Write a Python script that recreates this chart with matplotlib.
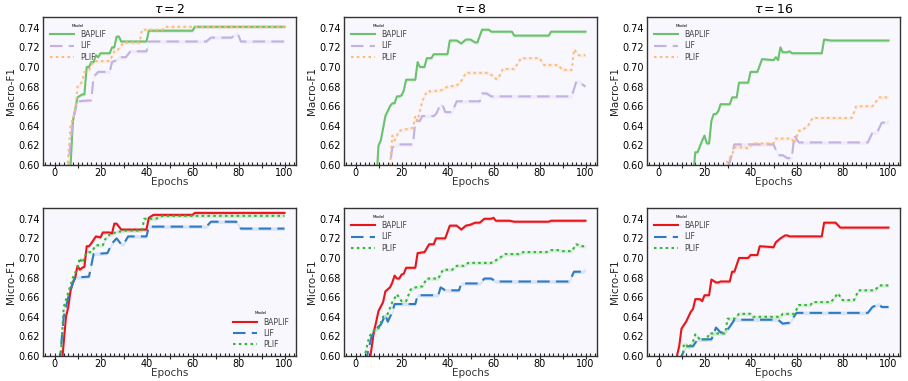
import matplotlib.pyplot as plt
from matplotlib.ticker import MultipleLocator, FuncFormatter

# (epoch, score) points
macro_t2_baplif = [(0, 0.40), (6, 0.57), (7, 0.60), (8, 0.645), (10, 0.669), (12, 0.672), (13, 0.672), (14, 0.700),
                   (15, 0.700), (16, 0.705), (17, 0.705), (18, 0.712), (19, 0.710), (20, 0.714), (24, 0.714),
                   (25, 0.720), (26, 0.720), (27, 0.731), (28, 0.731), (29, 0.726), (40, 0.726), (41, 0.737),
                   (60, 0.737), (61, 0.741), (100, 0.741)]
macro_t2_lif = [(0, 0.40), (5, 0.58), (6, 0.60), (8, 0.645), (10, 0.665), (16, 0.666), (17, 0.690), (19, 0.695),
                (24, 0.695), (25, 0.705), (27, 0.707), (28, 0.710), (31, 0.710), (33, 0.716), (40, 0.716),
                (41, 0.726), (66, 0.726), (68, 0.730), (77, 0.730), (79, 0.734), (80, 0.732), (81, 0.726),
                (100, 0.726)]
macro_t2_plif = [(0, 0.40), (5, 0.58), (6, 0.61), (7, 0.640), (9, 0.655), (10, 0.680), (11, 0.682), (12, 0.685),
                 (13, 0.695), (15, 0.697), (16, 0.702), (17, 0.706), (19, 0.706), (20, 0.706), (24, 0.706),
                 (26, 0.716), (27, 0.716), (30, 0.725), (37, 0.725), (38, 0.738), (47, 0.738), (48, 0.741),
                 (100, 0.741)]

macro_t8_baplif = [(0, 0.40), (9, 0.58), (9.5, 0.60), (10, 0.620), (11, 0.625), (13, 0.650), (15, 0.660),
                   (16, 0.663), (17, 0.663), (18, 0.670), (19, 0.670), (20, 0.671), (21, 0.676), (22, 0.687),
                   (26, 0.687), (27, 0.705), (28, 0.700), (30, 0.700), (31, 0.709), (33, 0.709), (34, 0.713),
                   (40, 0.713), (41, 0.727), (44, 0.727), (46, 0.724), (48, 0.728), (50, 0.728), (52, 0.725),
                   (53, 0.725), (55, 0.738), (58, 0.738), (59, 0.736), (68, 0.736), (69, 0.732), (84, 0.732),
                   (85, 0.736), (100, 0.736)]
macro_t8_lif = [(0, 0.40), (14, 0.58), (15, 0.60), (16, 0.618), (18, 0.621), (25, 0.621), (26, 0.645),
                (28, 0.645), (29, 0.650), (34, 0.650), (35, 0.652), (37, 0.662), (38, 0.660), (39, 0.654),
                (42, 0.654), (44, 0.665), (54, 0.665), (55, 0.673), (57, 0.673), (59, 0.670), (94, 0.670),
                (96, 0.685), (97, 0.685), (100, 0.680)]
macro_t8_plif = [(0, 0.40), (14, 0.58), (15, 0.60), (16, 0.630), (17, 0.625), (19, 0.635), (25, 0.638),
                 (26, 0.650), (27, 0.645), (29, 0.665), (31, 0.675), (37, 0.676), (40, 0.680), (44, 0.681),
                 (46, 0.686), (48, 0.694), (58, 0.694), (61, 0.688), (62, 0.688), (64, 0.698), (69, 0.698),
                 (72, 0.709), (80, 0.709), (82, 0.702), (88, 0.702), (90, 0.697), (94, 0.697), (95, 0.718),
                 (97, 0.712), (100, 0.712)]

macro_t16_baplif = [(0, 0.40), (15, 0.58), (15.5, 0.60), (16, 0.613), (17, 0.613), (19, 0.625), (20, 0.630),
                    (21, 0.622), (22, 0.622), (23, 0.645), (24, 0.652), (25, 0.652), (26, 0.655), (27, 0.662),
                    (31, 0.662), (32, 0.669), (34, 0.669), (35, 0.684), (39, 0.684), (40, 0.695), (43, 0.695),
                    (45, 0.708), (50, 0.707), (51, 0.710), (52, 0.707), (53, 0.720), (54, 0.715), (56, 0.715),
                    (57, 0.716), (58, 0.714), (71, 0.714), (72, 0.728), (75, 0.727), (100, 0.727)]
macro_t16_lif = [(0, 0.40), (29, 0.58), (30, 0.598), (31, 0.603), (33, 0.621), (50, 0.621), (52, 0.610),
                 (54, 0.610), (56, 0.607), (58, 0.607), (59, 0.630), (61, 0.623), (91, 0.623), (93, 0.633),
                 (95, 0.633), (97, 0.643), (100, 0.644)]
macro_t16_plif = [(0, 0.40), (29, 0.58), (30, 0.605), (32, 0.610), (33, 0.618), (37, 0.618), (39, 0.617),
                  (41, 0.622), (50, 0.622), (51, 0.627), (58, 0.627), (59, 0.622), (61, 0.635), (62, 0.635),
                  (65, 0.640), (67, 0.648), (84, 0.648), (86, 0.660), (93, 0.660), (96, 0.669), (100, 0.669)]

micro_t2_baplif = [(0, 0.40), (3, 0.58), (3.5, 0.60), (5, 0.640), (6, 0.650), (7, 0.667), (8, 0.675),
                   (9, 0.680), (10, 0.692), (11, 0.688), (12, 0.690), (13, 0.691), (14, 0.712), (15, 0.712),
                   (16, 0.715), (18, 0.722), (20, 0.721), (21, 0.726), (24, 0.726), (25, 0.725), (26, 0.735),
                   (27, 0.735), (29, 0.729), (40, 0.729), (41, 0.741), (43, 0.744), (60, 0.744), (61, 0.746),
                   (100, 0.746)]
micro_t2_lif = [(0, 0.40), (2, 0.58), (2.5, 0.60), (4, 0.640), (6, 0.660), (8, 0.675), (9, 0.680), (15, 0.681),
                (17, 0.704), (23, 0.705), (25, 0.715), (27, 0.720), (29, 0.714), (30, 0.714), (32, 0.722),
                (40, 0.722), (41, 0.732), (66, 0.732), (68, 0.737), (79, 0.737), (81, 0.730), (100, 0.730)]
micro_t2_plif = [(0, 0.40), (2, 0.58), (3, 0.610), (4, 0.650), (6, 0.665), (8, 0.680), (10, 0.690),
                 (11, 0.700), (12, 0.695), (14, 0.706), (16, 0.706), (18, 0.713), (21, 0.713), (22, 0.719),
                 (24, 0.724), (25, 0.724), (27, 0.727), (29, 0.727), (31, 0.728), (38, 0.728), (39, 0.740),
                 (44, 0.740), (47, 0.743), (100, 0.743)]

micro_t8_baplif = [(0, 0.40), (6, 0.58), (6.5, 0.60), (8, 0.625), (9, 0.635), (10, 0.646), (12, 0.655),
                   (13, 0.666), (15, 0.670), (16, 0.675), (17, 0.682), (18, 0.679), (19, 0.679), (20, 0.683),
                   (21, 0.684), (22, 0.690), (26, 0.690), (27, 0.705), (30, 0.706), (32, 0.714), (34, 0.714),
                   (35, 0.720), (39, 0.720), (41, 0.733), (44, 0.733), (46, 0.729), (48, 0.733), (50, 0.734),
                   (52, 0.736), (54, 0.736), (56, 0.740), (59, 0.740), (60, 0.741), (61, 0.738), (67, 0.738),
                   (69, 0.737), (84, 0.737), (85, 0.738), (100, 0.738)]
micro_t8_lif = [(0, 0.40), (4, 0.58), (5, 0.60), (7, 0.620), (9, 0.628), (11, 0.632), (13, 0.642),
                (14, 0.635), (16, 0.645), (17, 0.653), (26, 0.653), (27, 0.662), (36, 0.662), (37, 0.670),
                (39, 0.667), (45, 0.667), (46, 0.674), (54, 0.674), (56, 0.679), (59, 0.679), (61, 0.676),
                (93, 0.676), (95, 0.686), (99, 0.686), (100, 0.688)]
micro_t8_plif = [(0, 0.40), (3, 0.58), (4, 0.60), (6, 0.620), (8, 0.626), (10, 0.628), (12, 0.640),
                 (14, 0.643), (16, 0.655), (18, 0.663), (20, 0.656), (22, 0.656), (24, 0.668), (26, 0.670),
                 (29, 0.671), (31, 0.679), (36, 0.679), (38, 0.688), (42, 0.688), (44, 0.692), (47, 0.692),
                 (49, 0.695), (59, 0.695), (62, 0.699), (65, 0.704), (71, 0.704), (73, 0.706), (83, 0.706),
                 (85, 0.708), (88, 0.708), (90, 0.707), (94, 0.707), (96, 0.714), (98, 0.712), (100, 0.712)]

micro_t16_baplif = [(0, 0.40), (7.5, 0.58), (8, 0.60), (9, 0.610), (10, 0.628), (12, 0.635), (14, 0.645),
                    (15, 0.648), (16, 0.658), (18, 0.658), (19, 0.656), (20, 0.662), (22, 0.662), (23, 0.678),
                    (25, 0.675), (26, 0.675), (27, 0.676), (31, 0.676), (32, 0.686), (33, 0.686), (35, 0.700),
                    (39, 0.700), (40, 0.703), (43, 0.703), (44, 0.712), (50, 0.711), (51, 0.716), (53, 0.720),
                    (55, 0.723), (56, 0.723), (57, 0.722), (71, 0.722), (72, 0.736), (77, 0.736), (79, 0.731),
                    (100, 0.731)]
micro_t16_lif = [(0, 0.40), (9, 0.58), (10, 0.60), (12, 0.610), (15, 0.610), (17, 0.617), (23, 0.617),
                 (25, 0.629), (27, 0.624), (29, 0.624), (31, 0.630), (33, 0.637), (52, 0.637), (54, 0.633),
                 (57, 0.634), (60, 0.644), (91, 0.644), (93, 0.650), (96, 0.653), (97, 0.650), (100, 0.650)]
micro_t16_plif = [(0, 0.40), (10, 0.58), (11, 0.612), (12, 0.612), (13, 0.608), (15, 0.615), (16, 0.622),
                  (18, 0.617), (21, 0.617), (22, 0.623), (29, 0.623), (30, 0.638), (33, 0.638), (35, 0.643),
                  (40, 0.643), (41, 0.640), (53, 0.640), (54, 0.643), (59, 0.643), (61, 0.652), (66, 0.652),
                  (67, 0.655), (75, 0.655), (78, 0.664), (80, 0.657), (85, 0.657), (87, 0.667), (94, 0.667),
                  (96, 0.672), (100, 0.672)]

taus = [2, 8, 16]
models = ["BAPLIF", "LIF", "PLIF"]
macro_runs = [[macro_t2_baplif, macro_t2_lif, macro_t2_plif],
              [macro_t8_baplif, macro_t8_lif, macro_t8_plif],
              [macro_t16_baplif, macro_t16_lif, macro_t16_plif]]
micro_runs = [[micro_t2_baplif, micro_t2_lif, micro_t2_plif],
              [micro_t8_baplif, micro_t8_lif, micro_t8_plif],
              [micro_t16_baplif, micro_t16_lif, micro_t16_plif]]

macro_colors = ["#6cc26c", "#c3b1e1", "#ffbb78"]
micro_colors = ["#e8161b", "#2e7bc4", "#34b534"]
styles = ["-", (0, (6, 3)), (0, (1.2, 1.6))]

fig = plt.figure(figsize=(9.08, 3.81), dpi=100)
lefts = [43 / 908, 344 / 908, 647 / 908]
width = 253 / 908
bottoms = [1 - 165 / 381, 1 - 356 / 381]
height = 148 / 381


def draw(ax, runs, colors, ylabel, legend_loc):
    ax.set_facecolor("#f7f7fd")
    for i, pts in enumerate(runs):
        xs = [p[0] for p in pts]
        ys = [p[1] for p in pts]
        ax.fill_between(xs, [y - 0.0018 for y in ys], [y + 0.0018 for y in ys],
                        color=colors[i], alpha=0.15, lw=0)
        ax.plot(xs, ys, color=colors[i], ls=styles[i], lw=1.5, label=models[i])
    ax.set_xlim(-5, 105)
    ax.set_ylim(0.60, 0.751)
    ax.set_yticks([0.60, 0.62, 0.64, 0.66, 0.68, 0.70, 0.72, 0.74])
    ax.yaxis.set_major_formatter(FuncFormatter(lambda v, p: "%.2f" % v))
    ax.xaxis.set_major_locator(MultipleLocator(10))
    ax.xaxis.set_minor_locator(MultipleLocator(2))
    ax.xaxis.set_major_formatter(FuncFormatter(lambda v, p: "%d" % v if round(v) % 20 == 0 else ""))
    ax.tick_params(axis="x", which="major", direction="inout", length=5, width=0.8, color="#222222",
                   labelsize=7, pad=0)
    ax.tick_params(axis="x", which="minor", direction="in", length=2.5, width=0.8, color="#222222")
    ax.tick_params(axis="y", length=0, labelsize=7, pad=2)
    for s in ax.spines.values():
        s.set_color("#333333")
        s.set_linewidth(1.0)
    ax.set_xlabel("Epochs", fontsize=7.5, labelpad=-1, color="#333333")
    ax.set_ylabel(ylabel, fontsize=7.5, labelpad=2, color="#222222")
    leg = ax.legend(title="Model", loc=legend_loc, fontsize=5.5, title_fontsize=3,
                    frameon=False, handlelength=3.2, labelspacing=0.3, borderaxespad=0.5)
    for t in leg.get_texts():
        t.set_color("#444444")


for j in range(3):
    ax = fig.add_axes([lefts[j], bottoms[0], width, height])
    draw(ax, macro_runs[j], macro_colors, "Macro-F1", "upper left")
    ax.set_title(r"$\tau = %d$" % taus[j], fontsize=9, pad=3)
    ax = fig.add_axes([lefts[j], bottoms[1], width, height])
    draw(ax, micro_runs[j], micro_colors, "Micro-F1", "lower right" if j == 0 else "upper left")

fig.savefig("out.png", dpi=100)
